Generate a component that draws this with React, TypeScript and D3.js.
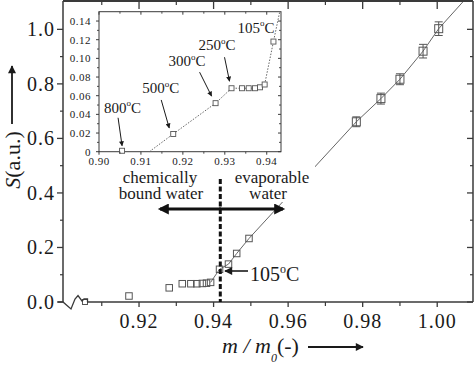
import React, { useEffect, useRef } from 'react';
import * as d3 from 'd3';

// ---- data ----
const mainX = [0.9055, 0.9173, 0.9281, 0.9316, 0.9339, 0.9355, 0.937, 0.9381, 0.9392, 0.9416, 0.944, 0.9462, 0.9495, 0.9783, 0.9849, 0.99, 0.9962, 1.0004];
const mainY = [0.0, 0.022, 0.052, 0.067, 0.067, 0.067, 0.068, 0.069, 0.072, 0.12, 0.139, 0.178, 0.233, 0.661, 0.746, 0.817, 0.92, 1.0025];
const mainErr = [0, 0, 0, 0, 0, 0, 0, 0, 0, 0, 0, 0, 0, 0.018, 0.02, 0.02, 0.025, 0.025];
const fitX = [0.9392, 0.9416, 0.944, 0.9462, 0.9495, 0.9783, 0.9849, 0.99, 0.9962, 1.0004, 1.0071];
const fitY = [0.072, 0.12, 0.139, 0.178, 0.233, 0.661, 0.746, 0.817, 0.92, 1.0025, 1.104];

const insetX = [0.9055, 0.9177, 0.9278, 0.9316, 0.9341, 0.9357, 0.9372, 0.9384, 0.9395, 0.9416];
const insetY = [0.001, 0.019, 0.052, 0.068, 0.068, 0.068, 0.068, 0.069, 0.072, 0.118];
const insetLineX = [0.912, 0.9177, 0.9278, 0.9316, 0.9341, 0.9357, 0.9372, 0.9384, 0.9395, 0.9416, 0.9431];
const insetLineY = [0, 0.019, 0.052, 0.068, 0.068, 0.068, 0.068, 0.069, 0.072, 0.118, 0.15];
const insetLabels = ['800', '500', '300', '250', '105'];

const xMajor = [0.92, 0.94, 0.96, 0.98, 1.0];
const xMinor = [0.91, 0.93, 0.95, 0.97, 0.99];
const yMajor = [0, 0.2, 0.4, 0.6, 0.8, 1.0];
const yMinor = [0.1, 0.3, 0.5, 0.7, 0.9];
const insetXMajor = [0.9, 0.91, 0.92, 0.93, 0.94];
const insetXMinor = [0.905, 0.915, 0.925, 0.935];
const insetYMajor = [0, 0.02, 0.04, 0.06, 0.08, 0.1, 0.12, 0.14];
const insetYMinor = [0.01, 0.03, 0.05, 0.07, 0.09, 0.11, 0.13];
const dividerX = 0.9418;

const W = 474, H = 366;
const L = 63, R = 473, T = 1, B = 302;
const IL = 99, IR = 281, IT = 11.7, IB = 151.7;

const AX = '#3a3a3a';
const DATA = '#555';
const TXT = '#1a1a1a';
const FF = '"Liberation Serif", "Times New Roman", Tinos, serif';

function Deg({ num, size }: { num: string; size: number }) {
  return (
    <>
      {num}
      <tspan fontSize={size * 0.6} dy={-size * 0.42}>o</tspan>
      <tspan dy={size * 0.42}>C</tspan>
    </>
  );
}

function T2(props: any) {
  return <text fontFamily={FF} fill={TXT} {...props} />;
}

export default function App() {
  const ref = useRef<SVGSVGElement>(null);
  useEffect(() => {
    if (!ref.current) return;
    d3.select(ref.current).selectAll('text, tspan').style('font-family', FF, 'important');
  });

  const x = d3.scaleLinear().domain([0.8996, 1.0096]).range([L, R]);
  const y = d3.scaleLinear().domain([0, 1.104]).range([B, T]);
  const ix = d3.scaleLinear().domain([0.9, 0.9434]).range([IL, IR]);
  const iy = d3.scaleLinear().domain([0, 0.15]).range([IB, IT]);

  const fitLine = d3.line<number>().x((d) => x(fitX[d])).y((d) => y(fitY[d]));
  const insetLine = d3.line<number>().x((d) => ix(insetLineX[d])).y((d) => iy(insetLineY[d]));

  const fmtMain = (v: number) => v.toFixed(1);
  const fmtX = (v: number) => v.toFixed(2);
  const fmtIy = (v: number) => (v === 0 ? '0' : v.toFixed(2));

  const lblOffsets = [
    { tx: -18, ty: -38, ax0: -4, ay0: -33, ax1: 0, ay1: -5 },
    { tx: -31, ty: -41, ax0: -12, ay0: -34, ax1: -4, ay1: -6 },
    { tx: -47, ty: -37, ax0: -16, ay0: -31, ax1: -4, ay1: -7 },
    { tx: -33, ty: -38, ax0: -7, ay0: -31, ax1: -2, ay1: -7 },
    { tx: -36, ty: -9, ax0: 0, ay0: 0, ax1: 0, ay1: 0 },
  ];
  const labeledIdx = [0, 1, 2, 3, 9];

  const divX = x(dividerX);

  return (
    <svg ref={ref} width={W} height={H} fontFamily={FF} style={{ position: 'absolute', left: 0, top: 0, background: '#fff' }}>
      <defs>
        <marker id="ah" viewBox="0 0 10 10" refX="9" refY="5" markerWidth="9" markerHeight="8" markerUnits="userSpaceOnUse" orient="auto">
          <path d="M0,0 L10,5 L0,10 z" fill={TXT} />
        </marker>
        <marker id="ahs" viewBox="0 0 10 10" refX="9" refY="5" markerWidth="6" markerHeight="5" markerUnits="userSpaceOnUse" orient="auto">
          <path d="M0,0 L10,5 L0,10 z" fill={TXT} />
        </marker>
        <marker id="ahb" viewBox="0 0 10 10" refX="8" refY="5" markerWidth="12" markerHeight="11" markerUnits="userSpaceOnUse" orient="auto">
          <path d="M0,0 L10,5 L0,10 z" fill="#111" />
        </marker>
      </defs>

      {/* fitted line */}
      <path d={fitLine(d3.range(fitX.length)) || ''} fill="none" stroke="#666" strokeWidth={1} />

      {/* error bars */}
      {mainX.map((v, i) =>
        mainErr[i] > 0 ? (
          <g key={'e' + i} stroke={DATA} strokeWidth={1}>
            <line x1={x(v)} x2={x(v)} y1={y(mainY[i] - mainErr[i])} y2={y(mainY[i] + mainErr[i])} />
            <line x1={x(v) - 4} x2={x(v) + 4} y1={y(mainY[i] - mainErr[i])} y2={y(mainY[i] - mainErr[i])} />
            <line x1={x(v) - 4} x2={x(v) + 4} y1={y(mainY[i] + mainErr[i])} y2={y(mainY[i] + mainErr[i])} />
          </g>
        ) : null
      )}
      {/* main squares */}
      {mainX.map((v, i) => {
        const s = mainErr[i] > 0 ? 8 : i === 0 ? 5 : 6.5;
        return <rect key={'m' + i} x={x(v) - s / 2} y={y(mainY[i]) - s / 2} width={s} height={s} fill="none" stroke={DATA} strokeWidth={1} />;
      })}

      {/* white box behind "evaporable water" */}
      <rect x={231} y={165} width={84} height={37} fill="#fff" />

      {/* axes frame */}
      <line x1={L} x2={L} y1={T} y2={B} stroke={AX} strokeWidth={1.5} />
      <line x1={87} x2={R} y1={B} y2={B} stroke={AX} strokeWidth={1.5} />
      <line x1={L} x2={R} y1={T} y2={T} stroke={AX} strokeWidth={2} />
      <line x1={R} x2={R} y1={T} y2={B} stroke={AX} strokeWidth={1.5} />
      {/* axis break */}
      <path d="M58,302 L63,302 L67,305.5 L71,309 L75,299 L78,295.5 L82,301 L84,299 L87.5,299 L87.5,302" fill="none" stroke={AX} strokeWidth={1.3} />

      {/* bottom / top ticks */}
      {xMajor.map((v) => (
        <g key={'xb' + v}>
          <line x1={x(v)} x2={x(v)} y1={B} y2={B + 5} stroke={AX} strokeWidth={1.3} />
          <T2 x={x(v)} y={328} textAnchor="middle" fontSize={20} letterSpacing={1}>{fmtX(v)}</T2>
          <line x1={x(v)} x2={x(v)} y1={T} y2={T + 8} stroke={AX} strokeWidth={1.3} />
        </g>
      ))}
      {xMinor.map((v) => (
        <g key={'xm' + v}>
          <line x1={x(v)} x2={x(v)} y1={B} y2={B + 4} stroke={AX} strokeWidth={1.2} />
          <line x1={x(v)} x2={x(v)} y1={T} y2={T + 4} stroke={AX} strokeWidth={1.2} />
        </g>
      ))}
      {/* left / right ticks */}
      {yMajor.map((v) => (
        <g key={'yl' + v}>
          <line x1={L - 6} x2={L} y1={y(v)} y2={y(v)} stroke={AX} strokeWidth={1.3} />
          <line x1={R - 6} x2={R} y1={y(v)} y2={y(v)} stroke={AX} strokeWidth={1.3} />
          <T2 x={55} y={y(v) + 7} textAnchor="end" fontSize={20} letterSpacing={1}>{fmtMain(v)}</T2>
        </g>
      ))}
      {yMinor.map((v) => (
        <g key={'ym' + v}>
          <line x1={L - 3} x2={L} y1={y(v)} y2={y(v)} stroke={AX} strokeWidth={1.2} />
          <line x1={R - 3} x2={R} y1={y(v)} y2={y(v)} stroke={AX} strokeWidth={1.2} />
        </g>
      ))}

      {/* axis titles */}
      <g transform="translate(20,160) rotate(-90)">
        <T2 textAnchor="middle" fontSize={22}>
          <tspan fontStyle="italic">S</tspan>(a.u.)
        </T2>
      </g>
      <line x1={12} x2={12} y1={124} y2={66} stroke={TXT} strokeWidth={1.8} markerEnd="url(#ah)" />
      <T2 x={222} y={353} fontSize={22}>
        <tspan fontStyle="italic">m / m</tspan>
        <tspan fontStyle="italic" fontSize={12} dy={9}>0</tspan>
        <tspan dy={-9}>(-)</tspan>
      </T2>
      <line x1={308} x2={363} y1={347} y2={347} stroke={TXT} strokeWidth={1.8} markerEnd="url(#ah)" />

      {/* divider & double arrow */}
      <line x1={divX} x2={divX} y1={179} y2={B} stroke="#111" strokeWidth={3} strokeDasharray="5,2.5" />
      <line x1={221} x2={160} y1={209} y2={209} stroke="#111" strokeWidth={3} markerEnd="url(#ahb)" />
      <line x1={219} x2={283} y1={209} y2={209} stroke="#111" strokeWidth={3} markerEnd="url(#ahb)" />
      <T2 x={160} y={183} fontSize={17} textAnchor="middle">
        <tspan x={160}>chemically</tspan>
        <tspan x={161} dy={16}>bound water</tspan>
      </T2>
      <T2 x={272} y={182.5} fontSize={17} textAnchor="middle">
        <tspan x={272}>evaporable</tspan>
        <tspan x={268} dy={16}>water</tspan>
      </T2>

      {/* 105 C main annotation */}
      <line x1={248} x2={225} y1={271} y2={271} stroke={TXT} strokeWidth={1.6} markerEnd="url(#ah)" />
      <T2 x={250} y={281} fontSize={20}><Deg num="105" size={20} /></T2>

      {/* ---- inset ---- */}
      <rect x={IL} y={IT} width={IR - IL} height={IB - IT} fill="#fff" stroke={AX} strokeWidth={1} />
      <path d={insetLine(d3.range(insetLineX.length)) || ''} fill="none" stroke="#666" strokeWidth={1} strokeDasharray="1.5,1.5" />
      {insetX.map((v, i) => (
        <rect key={'i' + i} x={ix(v) - 2.5} y={iy(insetY[i]) - 2.5} width={5} height={5} fill="#fff" stroke={DATA} strokeWidth={0.9} />
      ))}
      {insetXMajor.map((v) => (
        <g key={'ixM' + v}>
          <line x1={ix(v)} x2={ix(v)} y1={IB} y2={IB + 3} stroke={AX} strokeWidth={1} />
          <line x1={ix(v)} x2={ix(v)} y1={IT} y2={IT + 3} stroke={AX} strokeWidth={1} />
          <T2 x={ix(v)} y={165} textAnchor="middle" fontSize={11} letterSpacing={0.5}>{fmtX(v)}</T2>
        </g>
      ))}
      {insetXMinor.map((v) => (
        <g key={'ixm' + v}>
          <line x1={ix(v)} x2={ix(v)} y1={IB} y2={IB + 2} stroke={AX} strokeWidth={0.9} />
          <line x1={ix(v)} x2={ix(v)} y1={IT} y2={IT + 2} stroke={AX} strokeWidth={0.9} />
        </g>
      ))}
      {insetYMajor.map((v) => (
        <g key={'iyM' + v}>
          <line x1={IL - 3} x2={IL} y1={iy(v)} y2={iy(v)} stroke={AX} strokeWidth={1} />
          <line x1={IR - 3} x2={IR} y1={iy(v)} y2={iy(v)} stroke={AX} strokeWidth={1} />
          <T2 x={91} y={iy(v) + 4} textAnchor="end" fontSize={11} letterSpacing={0.5}>{fmtIy(v)}</T2>
        </g>
      ))}
      {insetYMinor.map((v) => (
        <g key={'iym' + v}>
          <line x1={IL - 2} x2={IL} y1={iy(v)} y2={iy(v)} stroke={AX} strokeWidth={0.9} />
          <line x1={IR - 2} x2={IR} y1={iy(v)} y2={iy(v)} stroke={AX} strokeWidth={0.9} />
        </g>
      ))}
      {labeledIdx.map((pi, k) => {
        const px = ix(insetX[pi]);
        const py = iy(insetY[pi]);
        const o = lblOffsets[k];
        return (
          <g key={'lb' + k}>
            <T2 x={px + o.tx} y={py + o.ty} fontSize={15}><Deg num={insetLabels[k]} size={15} /></T2>
            {o.ay0 !== 0 ? (
              <line x1={px + o.ax0} y1={py + o.ay0} x2={px + o.ax1} y2={py + o.ay1} stroke={TXT} strokeWidth={1} markerEnd="url(#ahs)" />
            ) : null}
          </g>
        );
      })}
    </svg>
  );
}
